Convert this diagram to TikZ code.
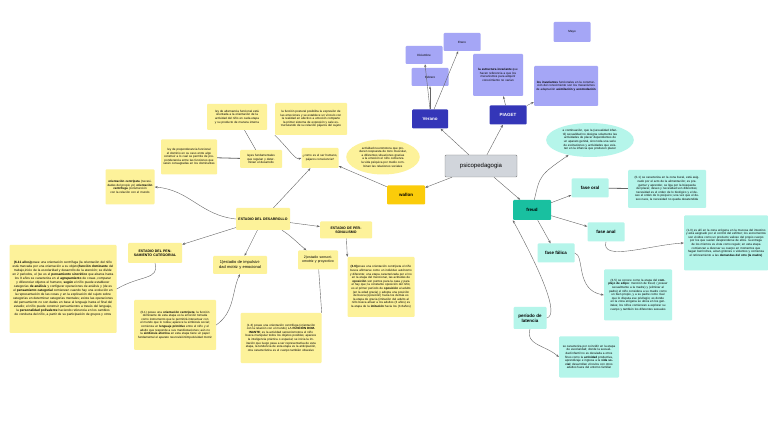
\documentclass[tikz,border=0pt]{standalone}
\usepackage{fontspec}
\setmainfont{Liberation Sans}
\usetikzlibrary{shapes.geometric,arrows.meta}
\definecolor{dblue}{HTML}{3436B8}
\definecolor{lviol}{HTML}{A5A6F6}
\definecolor{yel}{HTML}{FDF29A}
\definecolor{gold}{HTML}{FBCC0A}
\definecolor{dteal}{HTML}{19C0A0}
\definecolor{lteal}{HTML}{B5F5EA}
\definecolor{gr}{HTML}{D1D5DB}
\tikzset{
 every node/.style={inner sep=1pt,align=center,font=\fontsize{3}{3.6}\selectfont},
 bx/.style={rectangle,rounded corners=1pt,minimum width=#1},
 yb/.style={bx=#1,fill=yel},
 vb/.style={bx=#1,fill=lviol,minimum height=18pt},
 db/.style={bx=#1,fill=dblue,text=white,minimum height=19pt,font=\fontsize{4.5}{5}\selectfont\bfseries},
 tb/.style={bx=#1,fill=lteal},
 ttl/.style={bx=#1,fill=lteal,minimum height=19pt,font=\fontsize{4.5}{5}\selectfont\bfseries},
 ar/.style={-{Stealth[length=3pt]},draw=gray!80!black,line width=0.4pt},
 ln/.style={draw=gray!80!black,line width=0.4pt},
}
\begin{document}
\begin{tikzpicture}[x=1pt,y=-1pt]
\useasboundingbox[fill=white] (0,0) rectangle (768,427);
\node[bx=72pt,fill=gr,draw=gray,minimum height=22pt,font=\fontsize{6}{7}\selectfont] (psi) at (481,166) {psicopedagogia};
\node[bx=38pt,fill=gold,minimum height=19pt,font=\fontsize{4.5}{5}\selectfont\bfseries] (wal) at (406,195) {wallon};
\node[db=36pt] (ver) at (430,119) {Verano};
\node[db=37pt] (pia) at (508,115) {PIAGET};
\node[vb=37pt] (ene) at (462,42) {Enero};
\node[vb=37pt] (dic) at (424,55) {Diciembre};
\node[vb=37pt] (feb) at (430,77) {Febrero};
\node[vb=37pt,minimum height=20pt] (may) at (572,32) {Mayo};
\node[bx=50pt,fill=lviol,minimum height=42pt,text width=46pt] (est) at (498,75) {\textbf{la estructura invariante} que hacen referencia a que los mecanismos para adquirir conocimiento no varían};
\node[bx=64pt,fill=lviol,minimum height=40pt,text width=60pt] (inv) at (566,86) {\textbf{los invariantes} funcionales en la construcción del conocimiento son los mecanismos de adaptación \textbf{asimilación y acomodación}};
\node[ellipse,fill=lteal,minimum width=80pt,minimum height=34pt,text width=62pt,inner sep=0pt] (fel) at (590,140) {a continuación, que la (sexualidad infantil) sexualidad no designa solamente las actividades de placer dependientes de un aparato genital, sino toda una serie de excitaciones y actividades que existen en la infancia que producen placer};
\node[bx=38pt,fill=dteal,minimum height=20pt,font=\fontsize{4.5}{5}\selectfont\bfseries] (fre) at (532,210) {freud};
\node[ttl=37pt] (ora) at (590,188) {fase oral};
\node[tb=78pt,minimum height=38pt,text width=74pt] (orat) at (667,189) {(0-1) se caracteriza en la zona bucal, está asignado por el acto de la alimentación; es preguntar y aprender, se liga por la búsqueda del placer, deseo y necesidad son diferentes; necesidad es el orden de lo biológico y el deseo el orden de lo psíquico; una vez que el deseo nace, la necesidad no queda desatendida};
\node[ttl=37pt] (ana) at (606,232) {fase anal};
\node[tb=84pt,minimum height=55pt,text width=80pt] (anat) at (726,243) {(1-3) es allí en la zona erógena en la mucosa del intestino y está asignado por el control del esfínter; los excrementos son vividos como un producto valioso del propio cuerpo por los que suelen desprenderse de ellos. la entrega de los mismos es vista como regalo; en esta etapa comienzan a diversar su cuerpo en momentos que hagan berrinches, alzan gritones o violentos y comienza el reforzamiento a las \textbf{demandas del otro (la madre)}};
\node[ttl=37pt] (fal) at (556,253) {fase fálica};
\node[tb=68pt,minimum height=51pt,text width=64pt] (falt) at (638,295) {(3-5) se conoce como la etapa del \textbf{complejo de edipo}: mención de freud; ( poseer sexualmente a la madre) y (eliminar al padre) el niño considera a su madre como un bien propio, y a su padre como rival que lo disputa ese privilegio; es donde en la zona erógena se ubica en los genitales; los niños comienzan a explorar su cuerpo y también los diferentes sexuales};
\node[ttl=33pt,minimum height=22pt,text width=30pt] (lat) at (530,318) {período de latencia};
\node[tb=60pt,minimum height=41pt,text width=56pt] (latt) at (589,357) {se caracteriza por coincidir en la etapa de escolaridad; donde la sexualidad infantil no es desviada a otros fines como la \textbf{actividad} productiva, aprendizaje e ingresa a la \textbf{vida social}; desarrollan vínculos con otros adultos fuera del entorno familiar};
\node[yb=37pt,minimum height=20pt,text width=35pt] (com) at (320,158) {¿como es el ser humano, pàjaros consciencia?};
\node[yb=72pt,minimum height=32pt,text width=68pt] (top) at (311,119) {la función postural posibilita la expresión de las emociones y se establece un vínculo con la realidad en afectivo a emoción comparte la primer sistema de expresión y sale estructurando de su relación pájaros del sujeto};
\node[ellipse,fill=yel,minimum width=68pt,minimum height=35pt,text width=52pt,inner sep=0pt] (wel) at (383,157) {actividad neuromotora que producen respuesta de tono muscular, a diferentes situaciones gracias a la emoción el niño comienza la vida psíquica por medio combinan las relaciones sociales};
\node[yb=42pt,minimum height=18pt,text width=40pt] (ley) at (261,159) {leyes fundamentales que regulan y determinan el desarrollo};
\node[yb=60pt,minimum height=26pt,text width=56pt] (alt) at (237,117) {ley de alternancia funcional está orientada a la orientación de la actividad del niño en cada etapa y su producto de manera interna};
\node[yb=56pt,minimum height=35pt,text width=52pt] (pre) at (189,157) {ley de preponderancia funcional el dominio en su caso entre algo construir a lo cual se permite de preponderancia entre las funciones que serán consagradas en los dominantes};
\node[yb=49pt,minimum height=35pt,text width=45pt] (cen) at (130,187) {\textbf{orientación centrípeta} (necesidades del propio yo) \textbf{orientación centrífuga} (construcción con la relación con el mundo};
\node[yb=54pt,minimum height=22pt,text width=50pt,font=\fontsize{3.5}{4}\selectfont\bfseries] (des) at (263,219) {ESTADIO DEL DESARROLLO};
\node[yb=52pt,minimum height=17pt,text width=48pt,font=\fontsize{3.5}{4}\selectfont\bfseries] (per) at (346,230) {ESTADIO DE PERSONALISMO};
\node[yb=54pt,minimum height=20pt,text width=50pt,font=\fontsize{3.5}{4}\selectfont\bfseries] (cat) at (155,253) {ESTADIO DEL PENSAMIENTO CATEGORIAL};
\node[yb=54pt,minimum height=18pt,text width=52pt,font=\fontsize{4}{4.6}\selectfont] (imp) at (240,265) {1)estadio de impulsividad motriz y emocional};
\node[yb=39pt,minimum height=19pt,text width=38pt,font=\fontsize{3.5}{4.1}\selectfont] (sen) at (318,260) {2)estadio sensoriomotriz y proyectivo};
\node[yb=107pt,minimum height=88pt,text width=103pt,font=\fontsize{3.2}{4}\selectfont] (t611) at (63,289) {\textbf{(6-11 años)}posee una orientación centrífuga (la orientación del niño está marcada por una orientación a su objeto)\textbf{función dominante} del trabajo,inicio de la escolaridad y desarrollo de la atención; se divide en 2 periodos, el (se es el \textbf{pensamiento sincrético} que abarca hasta los 9 años se caracteriza en el \textbf{agrupamiento} de cosas ,comparar y diferenciar objetos el humano, \textbf{según} el niño puede establecer categorías \textbf{de análisis} y configurar operaciones de análisis y (de es el \textbf{pensamiento categorial} comienzan cuando hay una evolución en la representación de las cosas y en la explicación del sujeto sobre categorías en determinar categorías mentales; existe las operaciones del pensamiento no son dadas en base al lenguaje hasta el final del estadio; el niño puede construir pensamientos a través del lenguaje, la \textbf{personalidad polivalente} haciendo referencia en los cambios de conducta del niño, a partir de su participación de grupos y otros};
\node[yb=82pt,minimum height=50pt,text width=78pt] (t01) at (175,325) {(0-1) posee una \textbf{orientación centrípeta}; la función dominante de esta etapa es la emoción tomada como instrumento que le permitirá interactuar con el mundo que lo rodea; aparece la simbiosis social; comienza un \textbf{lenguaje primitivo} entre el niño y el adulto que responde a sus manifestaciones; aún no la \textbf{simbiosis afectiva} en esta etapa tiene un papel fundamental el aparato neurovisión/impulsividad motriz};
\node[yb=81pt,minimum height=50pt,text width=77pt] (t13) at (281,338) {(1-3) posee una orientación centrífuga (orientación con la relación con el mundo) LA \textbf{FUNCIÓN DOMINANTE}; es la actividad sensoriomotora el niño busca manipular todos los objetos posibles; aparece la inteligencia práctica o espacial; se inicia la imitación que luego pasa a ser representativa de esta etapa, la tendencia de esta etapa es la anticipación, otra característica es el cuerpo también obsesivo};
\node[yb=67pt,minimum height=60pt,text width=63pt] (t36) at (381,287) {\textbf{(3-6)}posee una orientación centrípeta el niño busca afirmarse como un individuo autónomo y diferente; una etapa caracterizada por el no en la etapa del mencionar, las actitudes de \textbf{oposición} son puntos para la casa y para el hay que; la constante oposición del niño; es el primer período de \textbf{oposición} al adulto (en la edad gracia) y adopta una posición de busca (oposición) hacia los demás es la etapa de gracia (imitación del adulto al niño busca atraer a los adultos (3 años) es la etapa de la \textbf{imitación} hacia los (3-6años)};
\draw[ar] (psi) -- (wal);
\draw[ar] (psi) -- (ver);
\draw[ar] (psi) -- (pia);
\draw[ar] (psi) -- (fre);
\draw[ar] (ver) -- (ene);
\draw[ar] (ver.north) -- (dic);
\draw[ar] (ver) -- (feb);
\draw[ar] (pia) -- (est);
\draw[ar] (pia) -- (inv);
\draw[ar] (fre) .. controls (540,175) .. (fel);
\draw[ar] (fre) -- (ora);
\draw[ar] (fre) -- (ana);
\draw[ar] (fre) -- (fal);
\draw[ar] (lat.east) .. controls (560,315) and (540,270) .. (fre.south west);
\draw[ln,line width=0.8pt] (ora) -- (orat);
\draw[ar] (ana.south) .. controls (600,262) and (650,245) .. (anat.west);
\draw[ar] (fal.east) .. controls (585,255) and (575,290) .. (falt.west);
\draw[ar] (lat.south) .. controls (525,345) and (545,345) .. (latt.west);
\draw[ar] (wal) -- (com);
\draw[ar] (top.south west) .. controls (290,150) and (295,160) .. (com.west);
\draw[ar] (des) -- (com);
\draw[ar] (des) -- (per);
\draw[ar] (des) -- (cat);
\draw[ar] (des) -- (imp);
\draw[ar] (des) .. controls (290,235) and (300,245) .. (sen);
\draw[ar] (des.west) .. controls (200,215) and (190,190) .. (cen.east);
\draw[ln] (ley) -- (alt);
\draw[ln,line width=0.8pt] (pre) -- (ley);
\draw[ar] (per) -- (t36.north west);
\draw[ln] (t611.east) .. controls (140,275) and (160,280) .. (cat.south);
\draw[ar] (t01.east) .. controls (235,312) and (232,290) .. (imp.south);
\draw[ln] (sen) -- (t13.north east);
\end{tikzpicture}
\end{document}
